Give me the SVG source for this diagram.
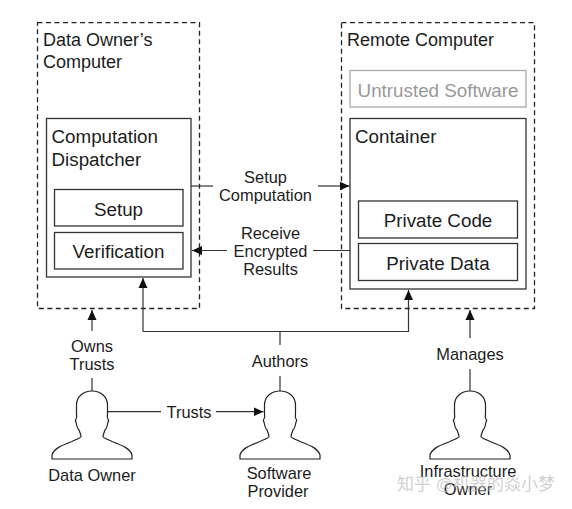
<svg xmlns="http://www.w3.org/2000/svg" width="572" height="509" viewBox="0 0 572 509">
<style>
text{font-family:"Liberation Sans",Arial,sans-serif;fill:#1c1c1c}
.b{font-size:18.8px}
.t{font-size:18px}
.m{font-size:16.4px}
.c{text-anchor:middle}
.box{fill:#fff;stroke:#333;stroke-width:1.3}
.dash{fill:none;stroke:#222;stroke-width:1.3;stroke-dasharray:5 3.5}
.ln{fill:none;stroke:#333;stroke-width:1.2}
.p{fill:#fff;stroke:#222;stroke-width:1.2}
.wm{font-family:"Liberation Sans","Noto Sans CJK SC",sans-serif;font-size:17px;fill:#bbb;fill-opacity:.7}
</style>
<defs>
<marker id="ah" markerUnits="userSpaceOnUse" markerWidth="11" markerHeight="12" refX="10" refY="6" orient="auto"><path d="M0 1.500 L10 6 L0 10.500 Z" fill="#111"/></marker>
<path id="person" d="M0 0 C-9 0 -15.500 6 -15.500 14 L-15.500 23 C-15.500 25 -15 25 -15.500 27 C-17 29 -17 30 -16 31 C-15.500 34 -15 37 -13 39 C-12 42 -11 44 -11 45.500 C-11 47 -15 48 -20 50.500 C-29 54 -38 57 -40 64 L-40 68 L40 68 L40 64 C38 57 29 54 20 50.500 C15 48 11 47 11 45.500 C11 44 12 42 13 39 C15 37 15.500 34 16 31 C17 30 17 29 15.500 27 C15 25 15.500 25 15.500 23 L15.500 14 C15.500 6 9 0 0 0 Z"/>
</defs>
<g id="data-owner-computer">
<rect class="dash" x="37.500" y="22.700" width="162" height="285.800"/>
<text class="t" x="43" y="46">Data Owner’s</text>
<text class="t" x="43" y="68">Computer</text>
</g>
<g id="computation-dispatcher">
<rect class="box" x="46.500" y="118.500" width="144.500" height="158.500"/>
<text class="b" x="51.500" y="143">Computation</text>
<text class="b" x="51.500" y="166">Dispatcher</text>
</g>
<g id="setup"><rect class="box" x="54.500" y="189.500" width="128.500" height="36.500"/><text class="b c" x="118.500" y="216">Setup</text></g>
<g id="verification"><rect class="box" x="54.500" y="232.500" width="128.500" height="36.500"/><text class="b c" x="118.500" y="258">Verification</text></g>
<g id="remote-computer">
<rect class="dash" x="341.500" y="22.700" width="193" height="285.800"/>
<text class="t" x="347" y="46">Remote Computer</text>
</g>
<g id="untrusted-software"><rect x="350" y="70.500" width="176" height="36.500" fill="#fff" stroke="#aaa" stroke-width="1.3"/><text class="b c" x="438" y="97" style="fill:#999">Untrusted Software</text></g>
<g id="container"><rect class="box" x="350" y="118.500" width="176" height="170.500"/><text class="b" x="355" y="143">Container</text></g>
<g id="private-code"><rect class="box" x="358.500" y="201" width="159" height="37"/><text class="b c" x="438" y="227">Private Code</text></g>
<g id="private-data"><rect class="box" x="358.500" y="243.500" width="159" height="37"/><text class="b c" x="438" y="270">Private Data</text></g>
<g id="connectors">
<path class="ln" d="M191 186 H213"/>
<path class="ln" d="M318 186 H349.500" marker-end="url(#ah)"/>
<path class="ln" d="M350 250.500 H313"/>
<path class="ln" d="M227 250.500 H192" marker-end="url(#ah)"/>
<path class="ln" d="M280 345 V331.500"/>
<path class="ln" d="M280 391 V376"/>
<path class="ln" d="M143 331.500 H408.500 V290" marker-end="url(#ah)"/>
<path class="ln" d="M143 331.500 V278" marker-end="url(#ah)"/>
<path class="ln" d="M92 331 V310" marker-end="url(#ah)"/>
<path class="ln" d="M92 391 V378"/>
<path class="ln" d="M470 338 V310" marker-end="url(#ah)"/>
<path class="ln" d="M470 391 V369"/>
<path class="ln" d="M107 411.700 H161"/>
<path class="ln" d="M216 411.700 H263.500" marker-end="url(#ah)"/>
</g>
<g id="setup-label"><text class="m c" x="265.500" y="183">Setup</text><text class="m c" x="265.500" y="201">Computation</text></g>
<g id="receive-label"><text class="m c" x="270.500" y="239">Receive</text><text class="m c" x="270.500" y="257">Encrypted</text><text class="m c" x="270.500" y="275">Results</text></g>
<g id="owns-label"><text class="m c" x="92" y="352">Owns</text><text class="m c" x="92" y="370">Trusts</text></g>
<g id="authors-label"><text class="m c" x="280" y="367">Authors</text></g>
<g id="manages-label"><text class="m c" x="470" y="360">Manages</text></g>
<g id="trusts-label"><text class="m c" x="189" y="418">Trusts</text></g>
<g id="data-owner"><use href="#person" class="p" x="92" y="391"/><text class="m c" x="92" y="481">Data Owner</text></g>
<g id="software-provider"><use href="#person" class="p" x="280" y="391"/><text class="m c" x="279" y="479">Software</text><text class="m c" x="278" y="497">Provider</text></g>
<g id="infrastructure-owner"><use href="#person" class="p" x="470" y="391"/><text class="m c" x="468" y="477">Infrastructure</text><text class="m c" x="468" y="495">Owner</text></g>
<text class="wm" x="397" y="490">知乎 @机器的焱小梦</text>
</svg>
